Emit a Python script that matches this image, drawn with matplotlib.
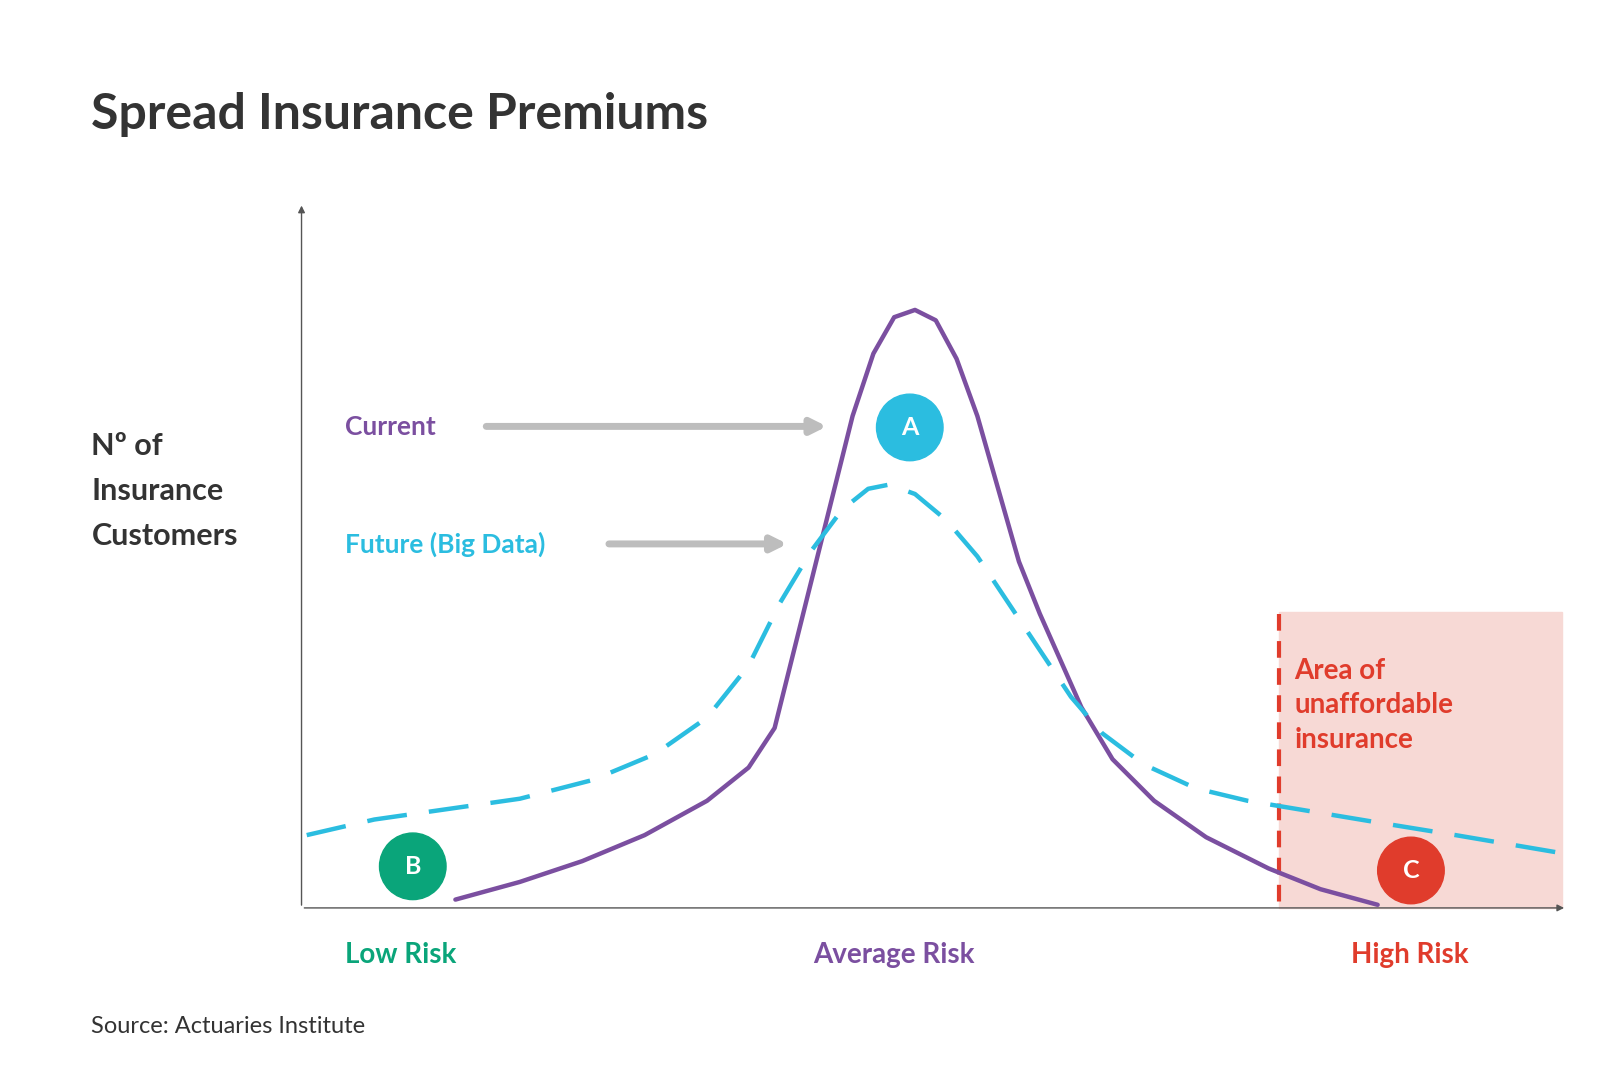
import matplotlib
matplotlib.use("Agg")
import matplotlib.pyplot as plt
from matplotlib.patches import Rectangle, Circle

plt.rcParams["font.family"] = "Lato"

# Curves (pixel-like coordinates, y grows downward)
current_x = [438,500,560,620,680,720,745,760,775,790,805,820,840,860,880,900,920,940,960,980,1000,1020,1040,1070,1110,1160,1220,1270,1325]
current_y = [865,848,828,803,770,738,700,640,580,520,460,400,340,305,298,308,345,400,470,540,590,635,680,730,770,805,835,855,870]
future_x = [295,360,430,500,570,630,680,720,750,780,810,835,855,880,910,940,970,1000,1030,1060,1100,1150,1200,1260,1320,1400,1500]
future_y = [803,788,778,768,750,725,690,640,580,530,490,470,466,475,500,535,580,625,670,705,735,758,770,780,790,803,820]

PURPLE = "#7b4fa0"; CYAN = "#2bbde0"; GREEN = "#0aa57a"; RED = "#e03c2c"; GREY = "#bdbdbd"; DARK = "#333333"

fig = plt.figure(figsize=(16.22, 10.92), dpi=100)
ax = fig.add_axes([0, 0, 1, 1])
ax.set_xlim(0, 1560); ax.set_ylim(1050, 0); ax.axis("off")

ax.add_patch(Rectangle((1230, 588), 272, 285, color="#f7d9d5", zorder=0))
ax.plot([1230, 1230], [590, 873], color=RED, lw=3, ls=(0, (4, 2.5)), zorder=2)

ax.annotate("", xy=(1507, 873), xytext=(290, 873), arrowprops=dict(arrowstyle="-|>", color="#555", lw=1, mutation_scale=10))
ax.annotate("", xy=(290, 195), xytext=(290, 873), arrowprops=dict(arrowstyle="-|>", color="#555", lw=1, mutation_scale=10))

ax.plot(current_x, current_y, color=PURPLE, lw=3.2, zorder=3, solid_capstyle="round", solid_joinstyle="round")
ax.plot(future_x, future_y, color=CYAN, lw=3.2, ls=(0, (9, 5)), zorder=3)

for (cx, cy, col, t) in [(875, 411, CYAN, "A"), (397, 833, GREEN, "B"), (1357, 837, RED, "C")]:
    ax.add_patch(Circle((cx, cy), 32, color=col, zorder=4))
    ax.text(cx, cy, t, color="white", fontsize=18, fontweight="bold", ha="center", va="center", zorder=5)

ax.annotate("", xy=(798, 410), xytext=(465, 410), arrowprops=dict(arrowstyle="-|>", color=GREY, lw=5, mutation_scale=22))
ax.annotate("", xy=(760, 523), xytext=(583, 523), arrowprops=dict(arrowstyle="-|>", color=GREY, lw=5, mutation_scale=22))

ax.text(88, 110, "Spread Insurance Premiums", fontsize=36, fontweight="bold", color=DARK, va="center")
ax.text(88, 472, "Nº of\nInsurance\nCustomers", fontsize=22, fontweight="bold", color=DARK, va="center", linespacing=1.75)
ax.text(332, 411, "Current", fontsize=19, fontweight="bold", color=PURPLE, va="center")
ax.text(332, 523, "Future (Big Data)", fontsize=19, fontweight="bold", color=CYAN, va="center")
ax.text(1245, 678, "Area of\nunaffordable\ninsurance", fontsize=20, fontweight="bold", color=RED, va="center", linespacing=1.4)
ax.text(385, 918, "Low Risk", fontsize=20, fontweight="bold", color=GREEN, ha="center", va="center")
ax.text(860, 918, "Average Risk", fontsize=20, fontweight="bold", color=PURPLE, ha="center", va="center")
ax.text(1356, 918, "High Risk", fontsize=20, fontweight="bold", color=RED, ha="center", va="center")
ax.text(88, 987, "Source: Actuaries Institute", fontsize=17, color=DARK, va="center")

fig.savefig("out.png", dpi=100)
